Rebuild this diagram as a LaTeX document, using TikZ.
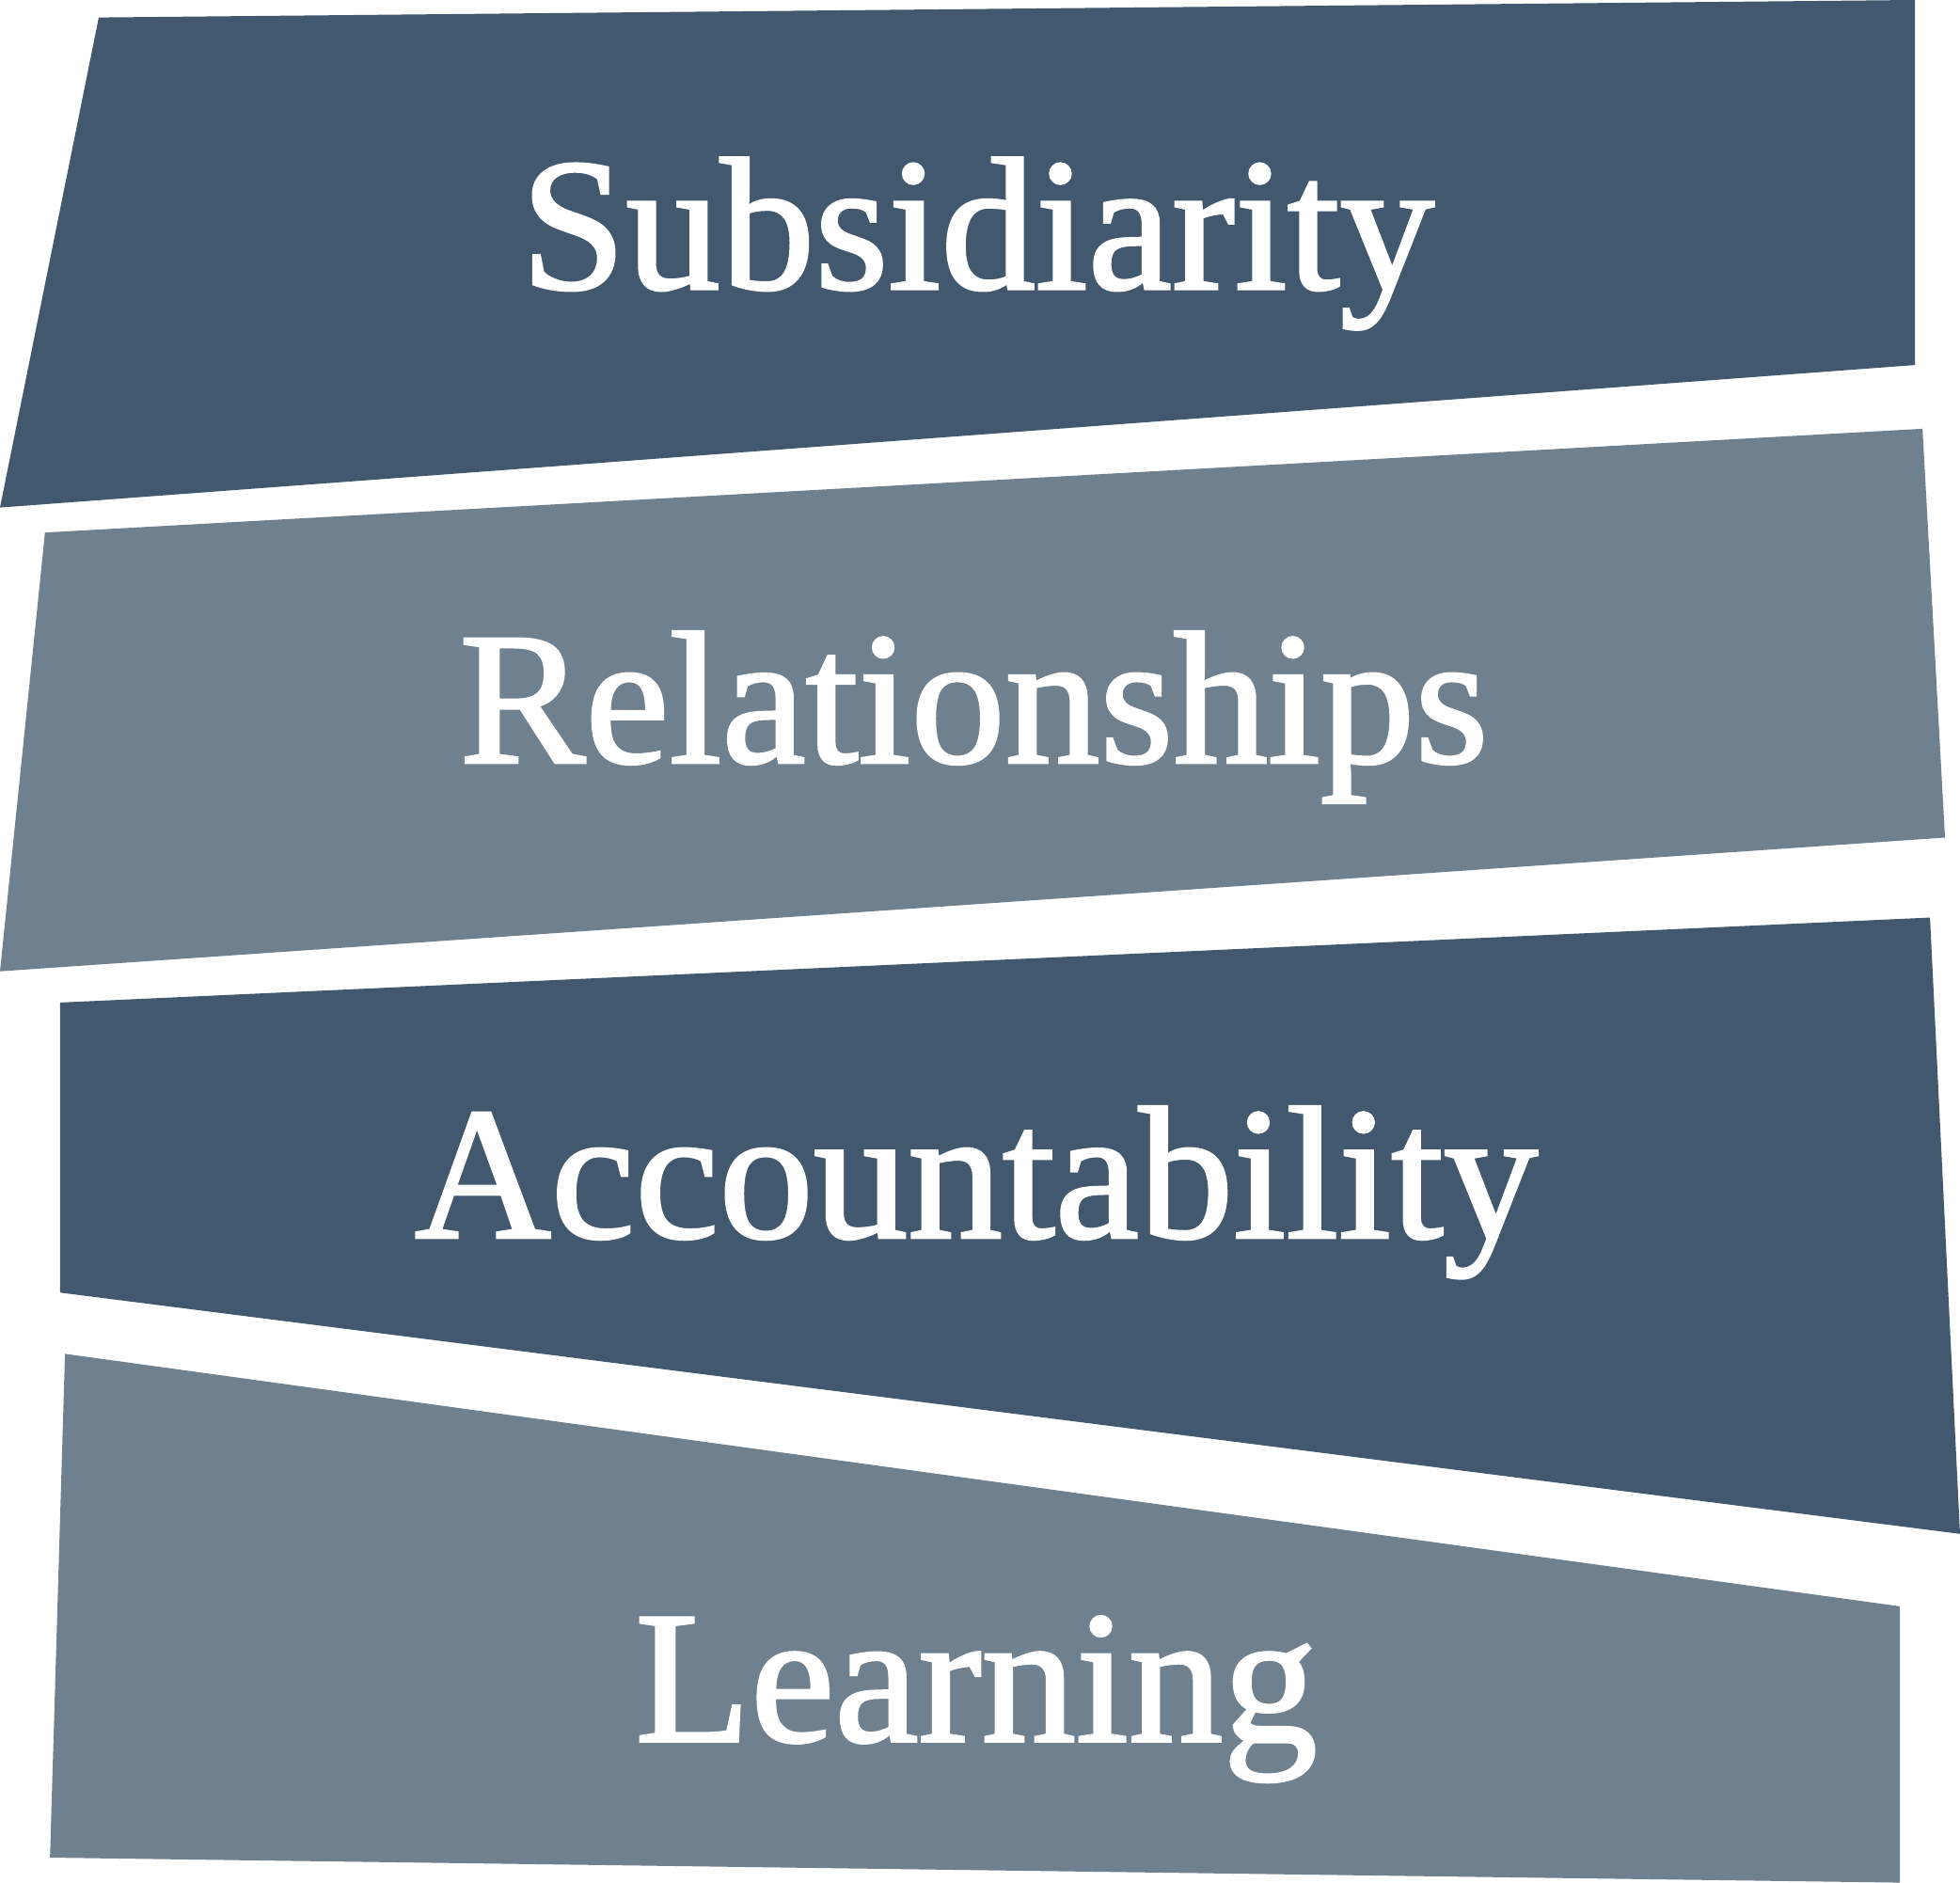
\documentclass[tikz,border=0pt]{standalone}
\usepackage{fontspec}
\newfontfamily\labelfont[FakeBold=1.5]{Liberation Serif}
\definecolor{darkband}{RGB}{65,88,111}
\definecolor{lightband}{RGB}{111,128,143}
\begin{document}
\begin{tikzpicture}[x=0.01cm, y=-0.01cm,
	word/.style={anchor=base, text=white, inner sep=0pt, font=\labelfont\fontsize{43}{50}\selectfont}]
	\useasboundingbox (0,0) rectangle (1568,1506);
	% bands
	\fill[darkband]  (79,14) -- (1532,0) -- (1532,292) -- (0,406) -- cycle;
	\fill[lightband] (36,426) -- (1538,343) -- (1556,670) -- (0,777) -- cycle;
	\fill[darkband]  (48,802) -- (1544,734) -- (1568,1227) -- (48,1034) -- cycle;
	\fill[lightband] (52,1083) -- (1520,1285) -- (1520,1506) -- (40,1486) -- cycle;
	% labels
	\node[word] (subsidiarity) at (782,231) {Subsidiarity};
	\node[word] (relationships) at (779,610) {Relationships};
	\node[word] (accountability) at (781,990) {Accountability};
	\node[word] (learning) at (781,1393) {Learning};
\end{tikzpicture}
\end{document}
